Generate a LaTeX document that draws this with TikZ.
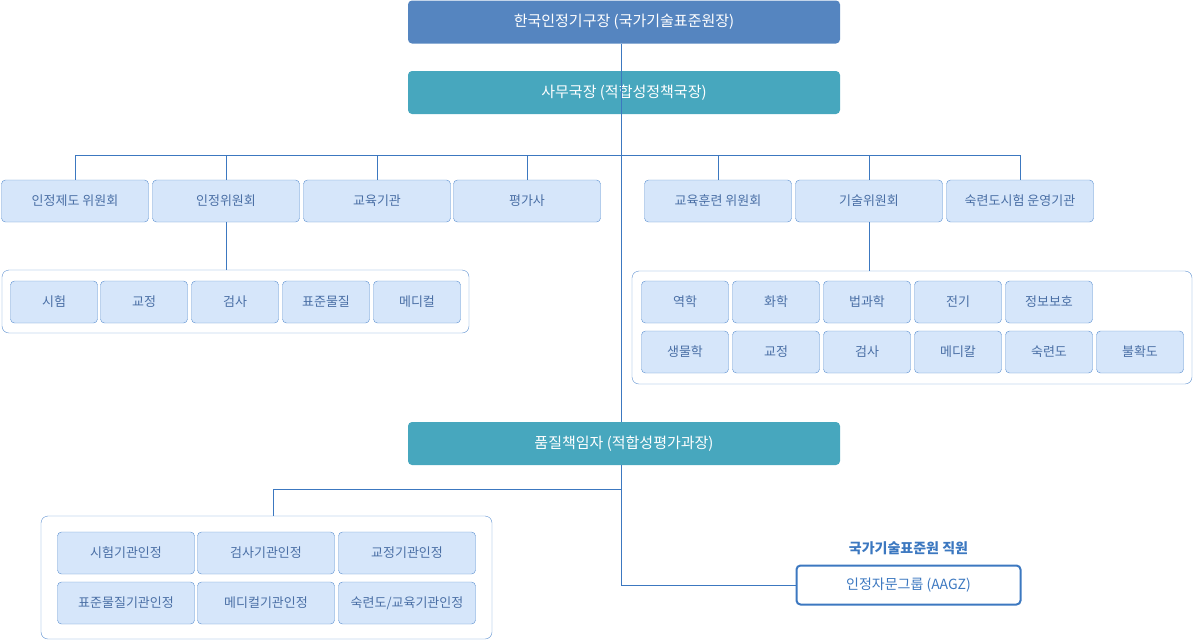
\documentclass[tikz,border=0pt]{standalone}
\usepackage{fontspec}
\setmainfont{Noto Sans CJK KR}
\usepackage{xcolor}
\usetikzlibrary{positioning,calc}
\definecolor{headblue}{HTML}{5585C0}
\definecolor{headteal}{HTML}{47A7BE}
\definecolor{boxfill}{HTML}{D6E6FA}
\definecolor{boxline}{HTML}{5B8FD0}
\definecolor{boxtext}{HTML}{4A6FA5}
\definecolor{wire}{HTML}{3C78C0}

\begin{document}
\begin{tikzpicture}[x=1pt,y=-1pt,
  head/.style={rounded corners=4pt,minimum width=432pt,minimum height=43pt,text=white,font=\fontsize{15}{17}\selectfont},
  unit/.style={draw=boxline,fill=boxfill,rounded corners=4pt,minimum width=147pt,minimum height=42pt,text=boxtext,font=\fontsize{13}{15}\selectfont},
  small/.style={unit,minimum width=87pt},
  mid/.style={unit,minimum width=137pt},
  group/.style={draw=boxline,rounded corners=7pt},
  link/.style={draw=wire,line width=0.8pt}]
\useasboundingbox (0,0) rectangle (1193,641);
% Heads
\node[head,fill=headblue] (chief) at (624,22) {한국인정기구장 (국가기술표준원장)};
\node[head,fill=headteal] (office) at (624,92.5) {사무국장 (적합성정책국장)};
\node[head,fill=headteal] (quality) at (624,443.5) {품질책임자 (적합성평가과장)};

% First row
\node[unit] (sys) at (75,201) {인정제도 위원회};
\node[unit] (acc) at (226,201) {인정위원회};
\node[unit] (edu) at (377,201) {교육기관};
\node[unit] (eval) at (527,201) {평가사};
\node[unit] (train) at (718,201) {교육훈련 위원회};
\node[unit] (tech) at (869,201) {기술위원회};
\node[unit] (skill) at (1020,201) {숙련도시험 운영기관};

% Accreditation committee group
\draw[group] (2,270) rectangle (469,333);
\node[small] (a1) at (54,302) {시험};
\node[small] (a2) at (144,302) {교정};
\node[small] (a3) at (235,302) {검사};
\node[small] (a4) at (326,302) {표준물질};
\node[small] (a5) at (417,302) {메디컬};

% Technical committee group
\draw[group] (632,271) rectangle (1192,384);
\node[small] (t1) at (685,302) {역학};
\node[small] (t2) at (776,302) {화학};
\node[small] (t3) at (867,302) {법과학};
\node[small] (t4) at (958,302) {전기};
\node[small] (t5) at (1049,302) {정보보호};
\node[small] (t6) at (685,352) {생물학};
\node[small] (t7) at (776,352) {교정};
\node[small] (t8) at (867,352) {검사};
\node[small] (t9) at (958,352) {메디칼};
\node[small] (t10) at (1049,352) {숙련도};
\node[small] (t11) at (1140,352) {불확도};

% Quality group
\draw[group] (41,516) rectangle (492,639);
\node[mid] (q1) at (126,553) {시험기관인정};
\node[mid] (q2) at (266,553) {검사기관인정};
\node[mid] (q3) at (407,553) {교정기관인정};
\node[mid] (q4) at (126,603) {표준물질기관인정};
\node[mid] (q5) at (266,603) {메디컬기관인정};
\node[mid] (q6) at (407,603) {숙련도/교육기관인정};

% Advisory group
\node[draw=wire,line width=2pt,rounded corners=4pt,minimum width=224pt,minimum height=39pt,text=wire,font=\fontsize{14}{16}\selectfont] (aagz) at (908.5,585) {인정자문그룹 (AAGZ)};
\node[above=6pt of aagz,text=wire,font=\fontsize{14}{16}\selectfont\bfseries] (staff) {국가기술표준원 직원};

% Wiring
\coordinate (bus) at (621,155);
\coordinate (qbus) at (621,489);
\draw[link] (chief.south -| bus) -- (office.south -| bus);
\draw[link] (office.south -| bus) -- (quality.north -| bus);
\draw[link] (quality.south -| bus) |- (aagz.west);
\draw[link] (sys.north |- bus) -- (skill.north |- bus);
\foreach \n in {sys,acc,eval,train,tech,skill} {
  \draw[link] (\n.north |- bus) -- (\n.north);
}
\draw[link] (edu.north |- bus) -- (edu.north);
\draw[link] (acc.south) -- (acc.south |- 0,270);
\draw[link] (tech.south) -- (tech.south |- 0,271);
\draw[link] (qbus) -| (273,516);
\end{tikzpicture}
\end{document}
